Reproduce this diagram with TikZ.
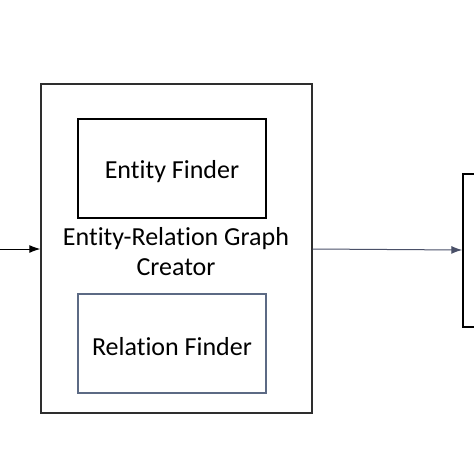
\documentclass[tikz,border=0pt]{standalone}
\usepackage{fontspec}
\setmainfont{Carlito}[Ligatures=NoCommon]
\usetikzlibrary{arrows.meta}
\definecolor{outerc}{HTML}{2E2E2E}
\definecolor{slate}{HTML}{5C6A84}
\definecolor{arrowc}{HTML}{4A5068}
\tikzset{
  box/.style={draw, line width=1.4pt, inner sep=0pt},
  lbl/.style={inner sep=0pt, font=\fontsize{26}{30}\selectfont, align=center},
  conn/.style={line width=1pt, -{Latex[length=11pt,width=8pt]}}
}
\begin{document}
\begin{tikzpicture}[x=1pt,y=-1pt]
\useasboundingbox (0,0) rectangle (474,474);
\clip (0,0) rectangle (474,474);
\node[box, draw=outerc, minimum width=271pt, minimum height=329pt] (outer) at (176.5,248.5) {};
\node[lbl] (outertxt) at (176,252) {Entity-Relation Graph\\Creator};
\node[box, draw=black, minimum width=188pt, minimum height=99pt] (ef) at (172,168.5) {};
\node[lbl] (eftxt) at (172,171.5) {Entity Finder};
\node[box, draw=slate, minimum width=188pt, minimum height=99pt] (rf) at (172,343.5) {};
\node[lbl] (rftxt) at (172,347) {Relation Finder};
\node[box, draw=black, minimum width=40pt, minimum height=153pt] (out) at (483,250.5) {};
\coordinate (in) at (-2,249);
\draw[conn, black] (in) -- (in -| outer.west);
\draw[conn, arrowc] (outer.east |- 0,249) -- (out.west |- 0,250);
\end{tikzpicture}
\end{document}
